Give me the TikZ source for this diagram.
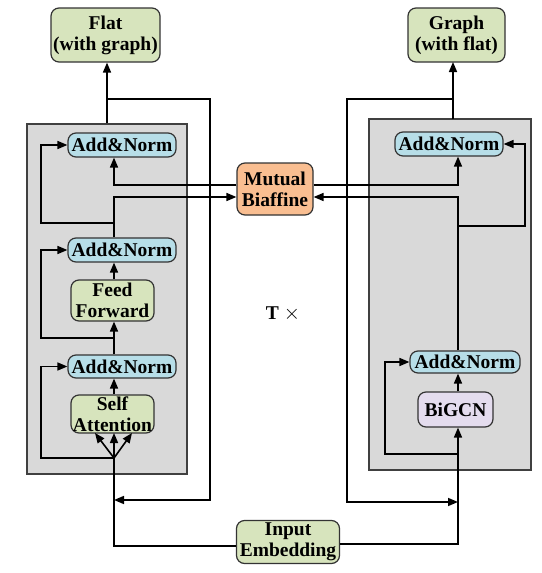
\documentclass[tikz,border=0pt]{standalone}
\usepackage{fontspec}
\setmainfont{Liberation Serif}
\usepackage{tikz}
\usetikzlibrary{arrows.meta}
\usepackage{xcolor}

\definecolor{boxgreen}{HTML}{D7E4BD}
\definecolor{boxblue}{HTML}{B7DEE8}
\definecolor{boxorange}{HTML}{F9BE91}
\definecolor{boxpurple}{HTML}{E4DCEE}
\definecolor{blockgray}{HTML}{D9D9D9}

\tikzset{
  box/.style = {draw = black!80, line width = 1.2pt, rounded corners = 8pt, inner sep = 0pt,
    align = center, font = \fontsize{19.5}{21}\selectfont\bfseries},
  green/.style = {box, fill = boxgreen},
  norm/.style = {box, fill = boxblue, minimum width = 108pt, minimum height = 24pt},
  block/.style = {draw = black!75, line width = 1.2pt, fill = blockgray, inner sep = 0pt},
  link/.style = {line width = 1.6pt},
  arr/.style = {link, -{Triangle[length = 10pt, width = 8pt]}}
}

\begin{document}
\begin{tikzpicture}[x = 1pt, y = -1pt]
\useasboundingbox[fill = white] (0,0) rectangle (541,573);

% the two stacks
\node[block, minimum width = 160pt, minimum height = 350pt] (lblk) at (107,299) {};
\node[block, minimum width = 162pt, minimum height = 351pt] (rblk) at (450,294.5) {};

% outputs
\node[green, minimum width = 109pt, minimum height = 54pt] (flat) at (105.5,35) {Flat\\(with graph)};
\node[green, minimum width = 97pt, minimum height = 54pt] (graph) at (456.5,35) {Graph\\(with flat)};

% left stack
\node[norm] (lan1) at (122,145) {Add\&Norm};
\node[norm] (lan2) at (122,250) {Add\&Norm};
\node[green, minimum width = 83pt, minimum height = 41pt] (ffn) at (112.5,300.5) {Feed\\Forward};
\node[norm, minimum height = 23pt] (lan3) at (122,366.5) {Add\&Norm};
\node[green, minimum width = 83pt, minimum height = 38pt] (satt) at (112.5,414) {Self\\Attention};

% right stack
\node[norm] (ran1) at (449,144) {Add\&Norm};
\node[norm, minimum width = 110pt, minimum height = 22pt] (ran2) at (465,362) {Add\&Norm};
\node[box, fill = boxpurple, minimum width = 75pt, minimum height = 35pt] (bigcn) at (455.5,409.5) {BiGCN};

% middle
\node[box, fill = boxorange, minimum width = 76pt, minimum height = 52pt] (mutual) at (275,189) {Mutual\\Biaffine};
\node[green, minimum width = 103pt, minimum height = 43pt] (embed) at (288,542) {Input\\Embedding};
\node[font = \fontsize{19.5}{21}\selectfont] (times) at (283,314) {\textbf{T} $\times$};

\coordinate (lx) at (114,0);
\coordinate (rx) at (458,0);
\coordinate (split) at (114,458);

% left side
\draw[link] (embed.west |- 0,546) -| (split);
\foreach \x in {95,114,132}
  \draw[arr] (split) -- (\x,433);
\draw[arr] (split) -- (41,458) |- (lan3.west);
\draw[arr] (satt.north -| lx) -- (lan3.south -| lx);
\draw[arr] (lan3.north -| lx) -- (ffn.south -| lx);
\draw[arr] (114,338) -- (41,338) |- (lan2.west);
\draw[arr] (ffn.north -| lx) -- (lan2.south -| lx);
\draw[arr] (lan2.north -| lx) |- (mutual.west |- 0,197);
\draw[arr] (114,223) -- (41,223) |- (lan1.west);
\draw[arr] (mutual.west |- 0,185) -| (lan1.south -| lx);
\draw[arr] (lblk.north) -- (flat.south -| lblk.north);
\draw[arr] (107,99) -- (210,99) -- (210,500) -- (114,500);

% right side
\draw[arr] (embed.east |- 0,544) -| (bigcn.south -| rx);
\draw[arr] (458,454) -- (385,454) |- (ran2.west);
\draw[arr] (bigcn.north -| rx) -- (ran2.south -| rx);
\draw[arr] (ran2.north -| rx) |- (mutual.east |- 0,197);
\draw[arr] (458,226) -- (525,226) |- (ran1.east);
\draw[arr] (mutual.east |- 0,185) -| (ran1.south -| rx);
\draw[arr] (453,119) -- (453,62);
\draw[arr] (453,99) -- (347,99) -- (347,502) -- (458,502);
\end{tikzpicture}
\end{document}
